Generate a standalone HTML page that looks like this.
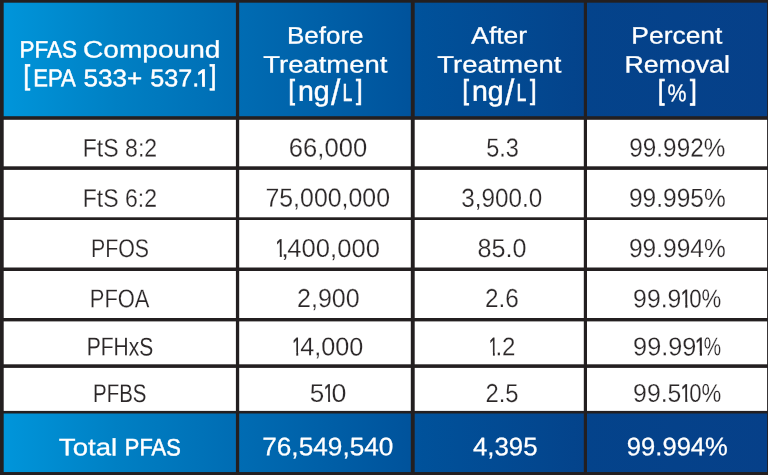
<!DOCTYPE html>
<html lang="en">
<head>
<meta charset="utf-8">
<title>PFAS Treatment Results</title>
<style>
html,body{margin:0;padding:0;background:#231f20;}
svg{display:block;}
text{font-family:"Liberation Sans",Arial,sans-serif;text-rendering:geometricPrecision;}
.h{fill:#fff;stroke:#fff;}
.b{fill:#2b2728;stroke:#fff;}
.d{fill:#2b2728;stroke:#2b2728;}
.cell{fill:#fff;}
.hd{fill:url(#g);}
</style>
</head>
<body>
<svg width="768" height="475" viewBox="0 0 768 475" role="table" aria-label="PFAS treatment results">
<defs>
<linearGradient id="g" gradientUnits="userSpaceOnUse" x1="0" y1="0" x2="768" y2="0"><stop offset="0" stop-color="#0096db"/><stop offset="0.15" stop-color="#0080c4"/><stop offset="0.31" stop-color="#006cb3"/><stop offset="0.54" stop-color="#00529b"/><stop offset="0.76" stop-color="#04438b"/><stop offset="1" stop-color="#064089"/></linearGradient>
<clipPath id="c24_0"><rect x="0" y="-24.00" width="8.45" height="21.24"/><rect x="5.76" y="-24.00" width="2.69" height="26.40"/></clipPath>
<clipPath id="c25_6"><rect x="0" y="-25.60" width="9.01" height="22.66"/><rect x="6.14" y="-25.60" width="2.87" height="28.16"/></clipPath>
</defs>
<!-- grid lines: dark backdrop showing between the cells -->
<rect width="768" height="475" fill="#231f20"/>
<g role="row">
<g role="columnheader" aria-label="PFAS Compound [EPA 533+ 537.1]"><rect class="hd" x="3.7" y="2.7" width="232.2" height="113.5"/>
<text class="h" font-size="23.8" stroke-width="0.5" transform="matrix(0.9452 0.0006 0 1 19.52 57.45)">PFAS</text> <text class="h" font-size="23.8" stroke-width="0.3" transform="matrix(1.1803 0.0006 0 1 83.00 57.45)">Compound</text>
<text class="h" font-size="28" stroke-width="0.7" transform="matrix(0.8479 0.0006 0 0.9916 23.60 84.50)">[</text><text class="h" font-size="24.3" stroke-width="0.5" transform="matrix(0.9087 0.0006 0 1 33.21 86.15)">EPA</text> <text class="h" font-size="24" stroke-width="0.4" transform="matrix(1.0889 0.0006 0 1 83.39 86.15)">533+</text> <text class="h" font-size="24" stroke-width="0.4" transform="matrix(1.0484 0.0006 0 1 150.33 86.15)">537.</text><text class="h" clip-path="url(#c24_0)" font-size="24" stroke-width="0.9" transform="matrix(0.9985 0.0006 0 1 196.44 86.15)">1</text><text class="h" font-size="28" stroke-width="0.7" transform="matrix(0.8303 0.0006 0 0.9907 209.81 84.51)">]</text>
</g>
<g role="columnheader" aria-label="Before Treatment [ng/L]"><rect class="hd" x="239.2" y="2.7" width="171.6" height="113.5"/>
<text class="h" font-size="23.8" stroke-width="0.3" transform="matrix(1.0921 0.0006 0 1 286.98 43.55)">Before</text>
<text class="h" font-size="23.8" stroke-width="0.3" transform="matrix(1.1537 0.0006 0 1 263.27 72.45)">Treatment</text>
<text class="h" font-size="27.6" stroke-width="0.7" transform="matrix(0.8420 0.0006 0 1.0093 288.60 99.34)">[</text><text class="h" font-size="28.2" stroke-width="0.5" transform="matrix(1.0094 0.0006 0 1 297.90 100.85)">ng</text><text class="h" font-size="35.7" stroke-width="0.3" transform="matrix(0.9429 0.0006 0 1.0200 330.97 104.82)">/</text><text class="h" font-size="24" stroke-width="1" transform="matrix(0.6992 0.0006 0 1 342.78 100.85)">L</text><text class="h" font-size="27.6" stroke-width="0.7" transform="matrix(0.8414 0.0006 0 1.0076 356.06 99.31)">]</text>
</g>
<g role="columnheader" aria-label="After Treatment [ng/L]"><rect class="hd" x="414.7" y="2.7" width="169.1" height="113.5"/>
<text class="h" font-size="23.8" stroke-width="0.3" transform="matrix(1.1131 0.0006 0 1 471.23 43.55)">After</text>
<text class="h" font-size="23.8" stroke-width="0.3" transform="matrix(1.1537 0.0006 0 1 437.27 72.45)">Treatment</text>
<text class="h" font-size="27.6" stroke-width="0.7" transform="matrix(0.8420 0.0006 0 1.0093 462.60 99.34)">[</text><text class="h" font-size="28.2" stroke-width="0.5" transform="matrix(1.0094 0.0006 0 1 471.90 100.85)">ng</text><text class="h" font-size="35.7" stroke-width="0.3" transform="matrix(0.9429 0.0006 0 1.0200 504.97 104.82)">/</text><text class="h" font-size="24" stroke-width="1" transform="matrix(0.6992 0.0006 0 1 516.78 100.85)">L</text><text class="h" font-size="27.6" stroke-width="0.7" transform="matrix(0.8414 0.0006 0 1.0076 530.06 99.31)">]</text>
</g>
<g role="columnheader" aria-label="Percent Removal [%]"><rect class="hd" x="587" y="2.7" width="180.1" height="113.5"/>
<text class="h" font-size="23.8" stroke-width="0.3" transform="matrix(1.1093 0.0006 0 1 631.35 43.50)">Percent</text>
<text class="h" font-size="23.8" stroke-width="0.3" transform="matrix(1.1227 0.0006 0 1 624.42 72.40)">Removal</text>
<text class="h" font-size="27.6" stroke-width="0.7" transform="matrix(0.8500 0.0006 0 1.0169 658.04 99.59)">[</text><text class="h" font-size="23.5" stroke-width="0.3" transform="matrix(0.9074 0.0006 0 1.0302 667.62 101.34)">%</text><text class="h" font-size="27.6" stroke-width="0.7" transform="matrix(0.8737 0.0006 0 1.0153 690.01 99.56)">]</text>
</g>
</g>
<g role="row">
<g role="cell" aria-label="FtS 8:2"><rect class="cell" x="3.7" y="119.8" width="232.2" height="46.5"/>
<text class="b" font-size="25.3" stroke-width="0.22" transform="matrix(0.9114 0.0006 0 1 82.79 156.55)">FtS 8:2</text>
</g>
<g role="cell" aria-label="66,000"><rect class="cell" x="239.2" y="119.8" width="171.6" height="46.5"/>
<text class="b" font-size="26" stroke-width="0.22" transform="matrix(0.9857 0.0006 0 1 288.84 156.45)">66,000</text>
</g>
<g role="cell" aria-label="5.3"><rect class="cell" x="414.7" y="119.8" width="169.1" height="46.5"/>
<text class="b" font-size="26" stroke-width="0.22" transform="matrix(0.9041 0.0006 0 1 486.27 156.55)">5.3</text>
</g>
<g role="cell" aria-label="99.992%"><rect class="cell" x="587" y="119.8" width="180.1" height="46.5"/>
<text class="b" font-size="26" stroke-width="0.22" transform="matrix(0.9354 0.0006 0 1 629.30 156.45)">99.992%</text>
</g>
</g>
<g role="row">
<g role="cell" aria-label="FtS 6:2"><rect class="cell" x="3.7" y="169.9" width="232.2" height="47.4"/>
<text class="b" font-size="25.3" stroke-width="0.22" transform="matrix(0.9102 0.0006 0 1 82.79 206.65)">FtS 6:2</text>
</g>
<g role="cell" aria-label="75,000,000"><rect class="cell" x="239.2" y="169.9" width="171.6" height="47.4"/>
<text class="b" font-size="26" stroke-width="0.22" transform="matrix(0.9572 0.0006 0 1 265.44 206.55)">75,000,000</text>
</g>
<g role="cell" aria-label="3,900.0"><rect class="cell" x="414.7" y="169.9" width="169.1" height="47.4"/>
<text class="b" font-size="26" stroke-width="0.22" transform="matrix(0.9337 0.0006 0 1 461.31 206.65)">3,900.0</text>
</g>
<g role="cell" aria-label="99.995%"><rect class="cell" x="587" y="169.9" width="180.1" height="47.4"/>
<text class="b" font-size="26" stroke-width="0.22" transform="matrix(0.9434 0.0006 0 1 628.89 206.65)">99.995%</text>
</g>
</g>
<g role="row">
<g role="cell" aria-label="PFOS"><rect class="cell" x="3.7" y="220" width="232.2" height="47.5"/>
<text class="b" font-size="25.6" stroke-width="0.22" transform="matrix(0.8332 0.0006 0 1 90.95 257.05)">PFOS</text>
</g>
<g role="cell" aria-label="1,400,000"><rect class="cell" x="239.2" y="220" width="171.6" height="47.5"/>
<text class="d" clip-path="url(#c25_6)" font-size="25.6" stroke-width="0.45" transform="matrix(0.6964 0.0006 0 1 275.53 256.70)">1</text><text class="b" font-size="25.6" stroke-width="0.22" transform="matrix(1.1433 0.0006 0 1 280.98 256.85)">,</text><text class="b" font-size="25.6" stroke-width="0.22" transform="matrix(1.0010 0.0006 0 1 287.29 256.85)">400,000</text>
</g>
<g role="cell" aria-label="85.0"><rect class="cell" x="414.7" y="220" width="169.1" height="47.5"/>
<text class="b" font-size="26" stroke-width="0.22" transform="matrix(0.9674 0.0006 0 1 477.56 256.95)">85.0</text>
</g>
<g role="cell" aria-label="99.994%"><rect class="cell" x="587" y="220" width="180.1" height="47.5"/>
<text class="b" font-size="26" stroke-width="0.22" transform="matrix(0.9434 0.0006 0 1 628.89 257.05)">99.994%</text>
</g>
</g>
<g role="row">
<g role="cell" aria-label="PFOA"><rect class="cell" x="3.7" y="271" width="232.2" height="47"/>
<text class="b" font-size="25.6" stroke-width="0.22" transform="matrix(0.8565 0.0006 0 1 89.79 307.20)">PFOA</text>
</g>
<g role="cell" aria-label="2,900"><rect class="cell" x="239.2" y="271" width="171.6" height="47"/>
<text class="b" font-size="26" stroke-width="0.22" transform="matrix(0.9629 0.0006 0 1 297.04 307.00)">2,900</text>
</g>
<g role="cell" aria-label="2.6"><rect class="cell" x="414.7" y="271" width="169.1" height="47"/>
<text class="b" font-size="26" stroke-width="0.22" transform="matrix(0.9357 0.0006 0 1 485.08 307.05)">2.6</text>
</g>
<g role="cell" aria-label="99.910%"><rect class="cell" x="587" y="271" width="180.1" height="47"/>
<text class="b" font-size="25.6" stroke-width="0.22" transform="matrix(0.9699 0.0006 0 1 633.11 307.35)">99.9</text><text class="d" clip-path="url(#c25_6)" font-size="25.6" stroke-width="0.45" transform="matrix(0.7408 0.0006 0 1 680.73 307.20)">1</text><text class="b" font-size="25.6" stroke-width="0.22" transform="matrix(0.8669 0.0006 0 1 689.15 307.35)">0%</text>
</g>
</g>
<g role="row">
<g role="cell" aria-label="PFHxS"><rect class="cell" x="3.7" y="321.4" width="232.2" height="42.9"/>
<text class="b" font-size="25.6" stroke-width="0.1" transform="matrix(0.8211 0.0006 0 1 86.67 355.35)">PFHxS</text>
</g>
<g role="cell" aria-label="14,000"><rect class="cell" x="239.2" y="321.4" width="171.6" height="42.9"/>
<text class="d" clip-path="url(#c25_6)" font-size="25.6" stroke-width="0.45" transform="matrix(0.6594 0.0006 0 1 292.27 355.20)">1</text><text class="b" font-size="25.6" stroke-width="0.22" transform="matrix(0.9851 0.0006 0 1 300.20 355.35)">4,000</text>
</g>
<g role="cell" aria-label="1.2"><rect class="cell" x="414.7" y="321.4" width="169.1" height="42.9"/>
<text class="d" clip-path="url(#c25_6)" font-size="25.6" stroke-width="0.45" transform="matrix(0.6297 0.0006 0 1 489.08 355.20)">1</text><text class="b" font-size="25.6" stroke-width="0.22" transform="matrix(0.9419 0.0006 0 1 495.41 355.35)">.2</text>
</g>
<g role="cell" aria-label="99.991%"><rect class="cell" x="587" y="321.4" width="180.1" height="42.9"/>
<text class="b" font-size="25.6" stroke-width="0.22" transform="matrix(0.9889 0.0006 0 1 633.08 355.35)">99.99</text><text class="d" clip-path="url(#c25_6)" font-size="25.6" stroke-width="0.45" transform="matrix(0.7705 0.0006 0 1 695.07 355.20)">1</text><text class="b" font-size="25.6" stroke-width="0.22" transform="matrix(0.7617 0.0006 0 1 703.87 355.35)">%</text>
</g>
</g>
<g role="row">
<g role="cell" aria-label="PFBS"><rect class="cell" x="3.7" y="367.9" width="232.2" height="43"/>
<text class="b" font-size="25.6" stroke-width="0.1" transform="matrix(0.7984 0.0006 0 1 93.02 401.90)">PFBS</text>
</g>
<g role="cell" aria-label="510"><rect class="cell" x="239.2" y="367.9" width="171.6" height="43"/>
<text class="b" font-size="25.6" stroke-width="0.22" transform="matrix(1.0193 0.0006 0 1 309.67 401.85)">5</text><text class="d" clip-path="url(#c25_6)" font-size="25.6" stroke-width="0.45" transform="matrix(0.6964 0.0006 0 1 323.83 401.70)">1</text><text class="b" font-size="25.6" stroke-width="0.22" transform="matrix(1.0482 0.0006 0 1 331.53 401.85)">0</text>
</g>
<g role="cell" aria-label="2.5"><rect class="cell" x="414.7" y="367.9" width="169.1" height="43"/>
<text class="b" font-size="26" stroke-width="0.22" transform="matrix(0.9158 0.0006 0 1 485.51 401.95)">2.5</text>
</g>
<g role="cell" aria-label="99.510%"><rect class="cell" x="587" y="367.9" width="180.1" height="43"/>
<text class="b" font-size="25.6" stroke-width="0.22" transform="matrix(0.9682 0.0006 0 1 633.11 401.85)">99.5</text><text class="d" clip-path="url(#c25_6)" font-size="25.6" stroke-width="0.45" transform="matrix(0.7260 0.0006 0 1 680.77 401.70)">1</text><text class="b" font-size="25.6" stroke-width="0.22" transform="matrix(0.8669 0.0006 0 1 689.15 401.85)">0%</text>
</g>
</g>
<g role="row">
<g role="cell" aria-label="Total PFAS"><rect class="hd" x="3.7" y="413.5" width="232.2" height="58.55"/>
<text class="h" font-size="23.8" stroke-width="0.3" transform="matrix(1.1583 0.0006 0 1 58.86 455.35)">Total</text> <text class="h" font-size="23.8" stroke-width="0.5" transform="matrix(0.9194 0.0006 0 1 124.86 455.35)">PFAS</text>
</g>
<g role="cell" aria-label="76,549,540"><rect class="hd" x="239.2" y="413.5" width="171.6" height="58.55"/>
<text class="h" font-size="25.3" stroke-width="0.25" transform="matrix(1.0361 0.0006 0 1 262.22 455.20)">76,549,540</text>
</g>
<g role="cell" aria-label="4,395"><rect class="hd" x="414.7" y="413.5" width="169.1" height="58.55"/>
<text class="h" font-size="25.3" stroke-width="0.25" transform="matrix(1.0196 0.0006 0 1 472.97 455.20)">4,395</text>
</g>
<g role="cell" aria-label="99.994%"><rect class="hd" x="587" y="413.5" width="180.1" height="58.55"/>
<text class="h" font-size="25.3" stroke-width="0.25" transform="matrix(1.0113 0.0006 0 1 626.84 455.20)">99.994%</text>
</g>
</g>
</svg>
</body>
</html>
